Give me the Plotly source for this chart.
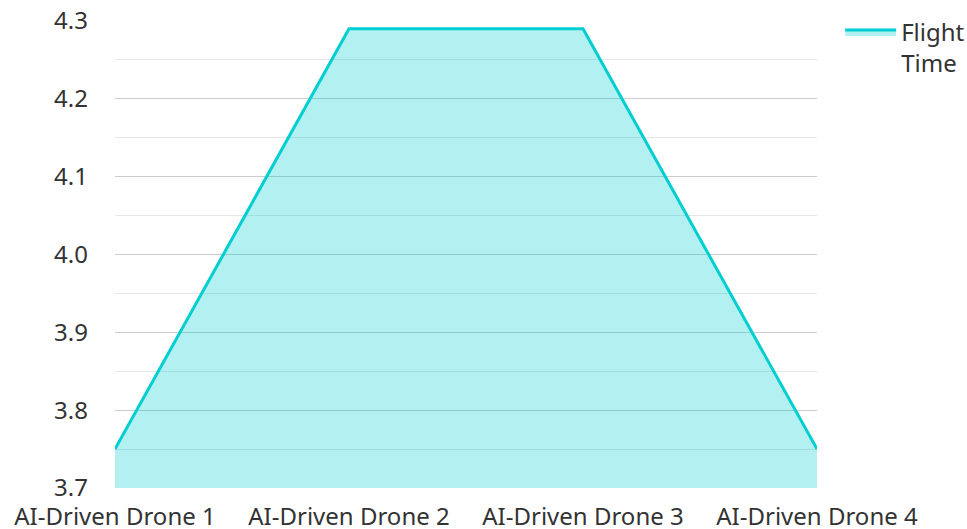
import plotly.graph_objects as go

categories = ["AI-Driven Drone 1", "AI-Driven Drone 2", "AI-Driven Drone 3", "AI-Driven Drone 4"]
flight_time = [3.75, 4.29, 4.29, 3.75]
y_base = [3.7, 3.7, 3.7, 3.7]
y_ticks = [3.7, 3.8, 3.9, 4.0, 4.1, 4.2, 4.3]
y_tick_labels = ["3.7", "3.8", "3.9", "4.0", "4.1", "4.2", "4.3"]
series_name = "Flight<br>Time"

fig = go.Figure()
fig.add_trace(go.Scatter(
    x=categories, y=y_base, mode="lines", line=dict(width=0),
    showlegend=False, hoverinfo="skip"))
fig.add_trace(go.Scatter(
    x=categories, y=flight_time, mode="lines", name=series_name,
    line=dict(color="#00CED1", width=3),
    fill="tonexty", fillcolor="rgba(0,206,209,0.3)"))

fig.update_layout(
    width=967, height=529,
    margin=dict(l=115, r=150, t=21, b=41, autoexpand=False),
    paper_bgcolor="white", plot_bgcolor="white",
    font=dict(family="Noto Sans", size=24, color="#333333"),
    legend=dict(x=1.033, y=1.024, xanchor="left", yanchor="top", font=dict(size=24),
                valign="top", itemwidth=51),
    xaxis=dict(range=[0, 3], showgrid=False, showline=False, zeroline=False, ticks="",
               ticklabelstandoff=12, automargin=False),
    yaxis=dict(range=[3.6999, 4.3001], tickvals=y_ticks, ticktext=y_tick_labels,
               showgrid=True, gridcolor="#cccccc", automargin=False,
               gridwidth=1, zeroline=False, showline=False,
               ticklabelstandoff=26,
               minor=dict(dtick=0.05, tick0=3.7, showgrid=True, gridcolor="#e6e6e6")),
)
fig.write_html("out.html", config={"displayModeBar": False},
               post_script="document.body.style.margin='0';document.body.style.overflow='hidden';")
